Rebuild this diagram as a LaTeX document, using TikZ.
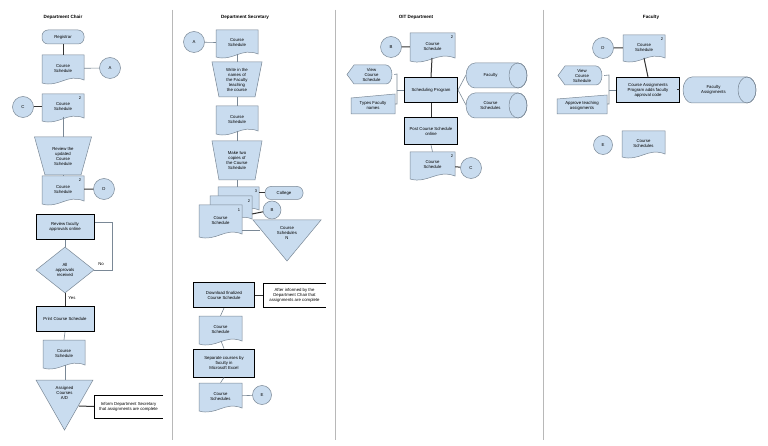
\documentclass[tikz,border=0pt]{standalone}
\usepackage{fontspec}
\setmainfont{Liberation Sans}
\usetikzlibrary{shapes.geometric}
\definecolor{fillc}{HTML}{C9DCEF}
\definecolor{bordc}{HTML}{7A8896}
\definecolor{lanec}{HTML}{B8B8B8}
\tikzset{
  shp/.style={fill=fillc,draw=bordc,line width=0.5pt},
  thickbox/.style={fill=fillc,draw=black,line width=1pt,align=center,inner sep=1pt},
  txt/.style={align=center,inner sep=0pt,font=\fontsize{4.3}{5}\selectfont},
  lbl/.style={font=\fontsize{4.3}{5}\selectfont},
  ttl/.style={font=\fontsize{4.6}{5}\selectfont\bfseries},
  conn/.style={draw=bordc,line width=0.6pt},
  connk/.style={draw=black!80,line width=1pt},
  circ/.style={circle,shp,minimum size=21pt,inner sep=0pt,font=\fontsize{4.3}{5}\selectfont},
  term/.style={shp,rounded corners=6pt,minimum height=14pt,inner sep=1pt,font=\fontsize{4.3}{5}\selectfont},
  num/.style={font=\fontsize{4}{4}\selectfont}
}
\newcommand\mydoc[6]{%
  \path[shp] (#2,#3) -- (#4,#3) -- (#4,{#5-2}) .. controls ({#2+0.6*(#4-#2)},{#5-9}) and ({#2+0.4*(#4-#2)},{#5+6}) .. (#2,{#5+1}) -- cycle;
  \node[txt,minimum width={(#4-#2)*1pt},minimum height={(#5-#3)*1pt}] (#1) at ({(#2+#4)/2},{(#3+#5)/2}) {#6};}
\newcommand\mytrap[7]{%
  \path[shp] ({#2-#5/2},#3) -- ({#2+#5/2},#3) -- ({#2+#6/2},#4) -- ({#2-#6/2},#4) -- cycle;
  \node[txt,minimum width={#6*1pt},minimum height={(#4-#3)*1pt}] (#1) at (#2,{(#3+#4)/2}) {#7};}
\newcommand\mytri[6]{%
  \path[shp] (#2,#3) -- (#4,#3) -- ({(#2+#4)/2},#5) -- cycle;
  \node[txt] (#1) at ({(#2+#4)/2},{#3+13}) {#6};}
\newcommand\mycyl[6]{%
  \path[shp] ({#2+9},#3) -- ({#4-9},#3) arc[start angle=-90,end angle=90,x radius=9,y radius={(#5-#3)/2}] -- ({#2+9},#5) arc[start angle=90,end angle=270,x radius=9,y radius={(#5-#3)/2}] -- cycle;
  \draw[bordc,line width=0.5pt] ({#4-9},{(#3+#5)/2}) ellipse[x radius=9,y radius={(#5-#3)/2}];
  \node[txt,minimum width={(#4-#2)*1pt},minimum height={(#5-#3)*1pt}] (#1) at ({(#2+#4)/2-6},{(#3+#5)/2}) {#6};}
\newcommand\mydisp[6]{%
  \path[shp] (#2,{(#3+#5)/2}) -- ({#2+7},#3) -- ({#4-6},#3) arc[start angle=-90,end angle=90,x radius=6,y radius={(#5-#3)/2}] -- ({#2+7},#5) -- cycle;
  \node[txt,minimum width={(#4-#2)*1pt},minimum height={(#5-#3)*1pt}] (#1) at ({(#2+#4)/2+2},{(#3+#5)/2}) {#6};}
\newcommand\myinp[6]{%
  \path[shp] (#2,{#3+4}) -- (#4,#3) -- (#4,#5) -- (#2,#5) -- cycle;
  \node[txt,minimum width={(#4-#2)*1pt},minimum height={(#5-#3)*1pt}] (#1) at ({(#2+#4)/2},{(#3+#5)/2+1.5}) {#6};}
\newcommand\myann[6]{%
  \draw[black,line width=0.8pt] (#4,#3) -- (#2,#3) -- (#2,#5) -- (#4,#5);
  \node[txt,minimum width={(#4-#2)*1pt},minimum height={(#5-#3)*1pt}] (#1) at ({(#2+#4)/2},{(#3+#5)/2}) {#6};}
\begin{document}
\begin{tikzpicture}[x=1pt,y=-1pt]
\useasboundingbox[fill=white] (0,0) rectangle (768,446);
\foreach \xx in {172,335,543} \draw[lanec,line width=0.6pt] (\xx,10) -- (\xx,440);
\node[ttl] (t1) at (63,17) {Department Chair};
\node[ttl] (t2) at (245,17) {Department Secretary};
\node[ttl] (t3) at (416,17) {OIT Department};
\node[ttl] (t4) at (651,17) {Faculty};

% ---- column 1
\node[term,minimum width=42pt] (reg) at (63,37) {Registrar};
\mydoc{d1}{42}{55}{84}{82}{Course\\Schedule}
\node[circ] (cA1) at (110,68) {A};
\mydoc{d2}{42}{94}{84}{120}{Course\\Schedule}
\node[num] at (80,98) {2};
\node[circ] (cC1) at (23,107) {C};
\mytrap{m1}{63}{137}{175}{57}{36}{Review the\\updated\\Course\\Schedule}
\mydoc{d3}{42}{176}{84}{203}{Course\\Schedule}
\node[num] at (80,180) {2};
\node[circ] (cD1) at (104,189) {D};
\node[thickbox,minimum width=58pt,minimum height=25pt,txt] (p1) at (65,227) {Review faculty\\approvals online};
\node[diamond,shp,minimum width=58pt,minimum height=46pt,inner sep=0pt,txt] (dec) at (65,270) {All\\approvals\\received};
\node[thickbox,minimum width=58pt,minimum height=25pt,txt] (p2) at (65,319) {Print Course Schedule};
\mydoc{d4}{43}{340}{85}{367}{Course\\Schedule}
\mytri{tr1}{36}{380}{93}{430}{Assigned\\Courses\\A/D}
\myann{a1}{94}{395}{163}{418}{Inform Department Secretary\\that assignments are complete}
\draw[connk] (reg) -- (d1.north);
\draw[conn] (d1) -- (cA1);
\draw[connk] (cC1) -- (d2);
\draw[conn] (63,117) -- (m1.north);
\draw[conn] (m1.south) -- (d3.north);
\draw[connk] (d3) -- (cD1);
\draw[conn] (dec.north) -- (p1.south);
\draw[conn] (dec.east) -- (112,270) -- (112,222) -- (p1.east|-0,222);
\node[lbl] at (101,264) {No};
\draw[connk] (dec.south) -- (p2.north);
\node[lbl] at (72,298) {Yes};
\draw[conn] (p2.south) -- (d4.north);
\draw[conn] (65,365) -- (65,380);
\draw[connk] (79,406) -- (a1.west);

% ---- column 2
\node[circ] (cA2) at (194,42) {A};
\mydoc{d5}{216}{30}{258}{56}{Course\\Schedule}
\mytrap{m2}{237}{62}{97}{50}{36}{Write in the\\names of\\the Faculty\\teaching\\the course}
\mydoc{d6}{216}{106}{258}{133}{Course\\Schedule}
\mytrap{m3}{237}{141}{180}{50}{36}{Make two\\copies of\\the Course\\Schedule}
\mydoc{d7c}{218}{187}{259}{212}{}
\node[num] at (256,191) {3};
\mydoc{d7b}{210}{196}{252}{221}{}
\node[num] at (249,201) {2};
\mydoc{d7}{199}{205}{242}{236}{Course\\Schedule}
\node[num] at (239,210) {1};
\node[term,minimum width=38pt,minimum height=13pt] (col) at (284,193) {College};
\node[circ,minimum size=18pt] (cB2) at (272,210) {B};
\mytri{tr2}{253}{220}{321}{261}{Course\\Schedules\\N}
\node[thickbox,minimum width=61pt,minimum height=25pt,txt] (p3) at (224,295) {Download finalized\\Course Schedule};
\myann{a2}{263}{283}{326}{307}{After informed by the\\Department Chair that\\assignments are complete};
\mydoc{d8}{199}{316}{242}{343}{Course\\Schedule}
\node[thickbox,minimum width=61pt,minimum height=28pt,txt] (p4) at (224,363) {Separate courses by\\faculty in\\Microsoft Excel};
\mydoc{d9}{199}{383}{242}{410}{Course\\Schedules}
\node[circ,minimum size=19pt] (cE2) at (262,395) {E};
\draw[conn] (cA2) -- (d5);
\draw[conn] (237,54) -- (m2.north);
\draw[conn] (m2.south) -- (d6.north);
\draw[conn] (237,131) -- (m3.north);
\draw[conn] (m3.south) -- (237,187);
\draw[connk] (259,193) -- (col.west);
\draw[connk] (252,214) -- (cB2);
\draw[conn] (242,230) -- (260,230);
\draw[connk] (p3) -- (a2);
\draw[conn] (p3.south) -- (d8.north);
\draw[conn] (221,341) -- (p4.north);
\draw[conn] (p4.south) -- (d9.north);
\draw[conn] (d9) -- (cE2);

% ---- column 3
\node[circ] (cB3) at (391,47) {B};
\mydoc{d10}{410}{33}{455}{60}{Course\\Schedule}
\node[num] at (452,37) {2};
\mydisp{v1}{347}{65}{392}{84}{View\\Course\\Schedule}
\myinp{i1}{351}{94}{395}{114}{Types Faculty\\names}
\node[thickbox,minimum width=53pt,minimum height=25pt,txt] (sp) at (431,90) {Scheduling Program};
\mycyl{cy1}{466}{63}{527}{88}{Faculty}
\mycyl{cy2}{466}{93}{527}{118}{Course\\Schedules}
\node[thickbox,minimum width=53pt,minimum height=27pt,txt] (p5) at (431,131) {Post Course Schedule\\online};
\mydoc{d11}{410}{152}{455}{178}{Course\\Schedule}
\node[num] at (452,156) {2};
\node[circ] (cC3) at (471,168) {C};
\draw[connk] (cB3) -- (d10);
\draw[connk] (432,58) -- (sp.north);
\draw[conn] (v1.east) -- (397,74) -- (397,104) -- (i1.east|-0,104);
\draw[conn] (397,90) -- (sp.west);
\draw[conn] (sp.east) -- (466,75);
\draw[conn] (sp.east) -- (466,105);
\draw[connk] (sp.south) -- (p5.north);
\draw[conn] (p5.south) -- (d11.north);
\draw[connk] (d11) -- (cC3);

% ---- column 4
\node[circ] (cD4) at (603,48) {D};
\mydoc{d12}{623}{35}{665}{60}{Course\\Schedule}
\node[num] at (662,39) {2};
\mydisp{v2}{558}{66}{602}{85}{View\\Course\\Schedule}
\myinp{i2}{557}{95}{607}{114}{Approve teaching\\assignments}
\node[thickbox,minimum width=63pt,minimum height=25pt,txt] (p6) at (648,90) {Course Assignments\\Program adds faculty\\approval code};
\mycyl{cy3}{683}{77}{756}{103}{Faculty\\Assignments}
\node[circ,minimum size=19pt] (cE4) at (603,145) {E};
\mydoc{d13}{622}{131}{665}{156}{Course\\Schedules}
\draw[connk] (cD4) -- (d12);
\draw[connk] (644,58) -- (p6.north);
\draw[conn] (v2.east) -- (609,75) -- (609,104) -- (i2.east|-0,104);
\draw[conn] (609,90) -- (p6.west);
\draw[connk] (p6.east) -- (cy3.west);
\end{tikzpicture}
\end{document}
